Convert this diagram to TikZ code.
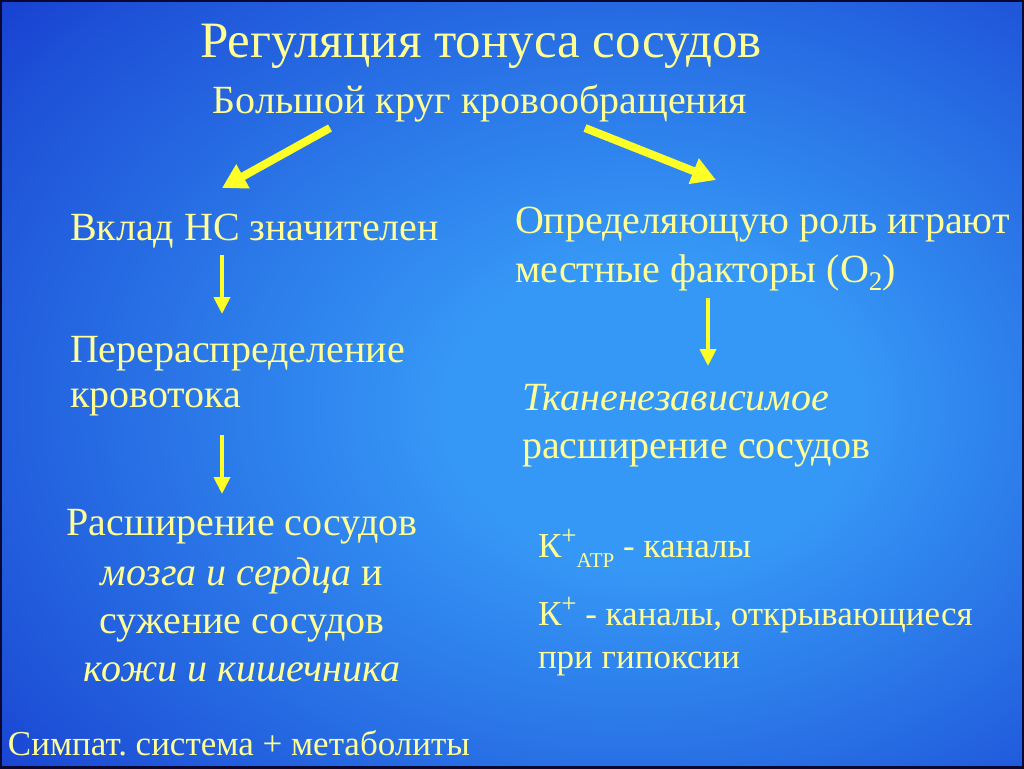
\documentclass[tikz,border=0pt]{standalone}
\usepackage{fontspec}
\setmainfont{Liberation Serif}
\setsansfont{Liberation Serif}
\usetikzlibrary{arrows.meta}
\definecolor{txt}{RGB}{255,255,150}
\definecolor{arr}{RGB}{255,255,40}
\definecolor{bgA}{RGB}{54,152,246}
\definecolor{bgB}{RGB}{30,82,216}
\definecolor{bgC}{RGB}{4,10,190}
\definecolor{frame}{RGB}{8,8,50}
\pgfdeclareradialshading{bgshade}{\pgfpoint{8bp}{-2bp}}{color(0bp)=(bgA);color(10bp)=(bgA);color(34bp)=(bgB);color(54bp)=(bgC);color(75bp)=(bgC)}
\newcommand{\mysz}[2]{\fontsize{#1}{#2}\selectfont}
\frenchspacing
\tikzset{
  lbl/.style={text=txt, inner sep=0pt, outer sep=0pt, anchor=base west, font=\rmfamily\mysz{40}{46}},
  ctr/.style={lbl, anchor=base},
  smalltxt/.style={lbl, font=\rmfamily\mysz{35}{40}},
  bigarrow/.style={draw=arr, line width=8pt, -{Triangle[width=26pt,length=24pt]}},
  downarrow/.style={draw=arr, line width=4pt, -{Triangle[width=16pt,length=17pt]}}
}
\begin{document}
\begin{tikzpicture}[x=1pt,y=-1pt]
\useasboundingbox (0,0) rectangle (1024,768);
\shade[shading=bgshade] (0,0) rectangle (1024,768);
\draw[frame, line width=4pt] (0,0) rectangle (1024,768);

% title
\node[ctr, font=\rmfamily\mysz{51}{56}] (title) at (481,58) {Регуляция тонуса сосудов};
\node[ctr] (sub) at (480,113) {Большой круг кровообращения};

% left column
\node[lbl] (vklad) at (70,240) {Вклад НС значителен};
\node[lbl] (perer1) at (70,362) {Перераспределение};
\node[lbl] (perer2) at (70,407) {кровотока};
\node[ctr] (rassh1) at (242,535) {Расширение сосудов};
\node[ctr] (rassh2) at (242,585) {\textit{мозга и сердца} и};
\node[ctr] (rassh3) at (242,633) {сужение сосудов};
\node[ctr] (rassh4) at (242,681) {\textit{кожи и кишечника}};

% right column
\node[lbl] (opred1) at (515,233) {Определяющую роль играют};
\node[lbl] (opred2) at (515,282) {местные факторы (О\raisebox{-0.22em}{\mysz{27}{27}2})};
\node[lbl] (tkan1) at (522,410) {\textit{Тканенезависимое}};
\node[lbl] (tkan2) at (522,458) {расширение сосудов};
\node[smalltxt] (katp) at (538,557) {К\raisebox{0.36em}{\mysz{27}{27}+}\raisebox{-0.3em}{\mysz{21}{21}АТР} - каналы};
\node[smalltxt] (kgip1) at (538,625) {К\raisebox{0.36em}{\mysz{27}{27}+} - каналы, открывающиеся};
\node[smalltxt] (kgip2) at (538,668) {при гипоксии};

% bottom
\node[smalltxt] (simp) at (8,755) {Симпат. система + метаболиты};

% arrows
\coordinate (a1s) at (330,128);
\coordinate (a1e) at (222,188);
\coordinate (a2s) at (585,128);
\coordinate (a2e) at (716,180);
\draw[bigarrow] (a1s) -- (a1e);
\draw[bigarrow] (a2s) -- (a2e);

\coordinate (d1s) at (222,255);
\coordinate (d1e) at (222,314);
\coordinate (d2s) at (222,435);
\coordinate (d2e) at (222,494);
\coordinate (d3s) at (708,298);
\coordinate (d3e) at (708,366);
\draw[downarrow] (d1s) -- (d1e);
\draw[downarrow] (d2s) -- (d2e);
\draw[downarrow] (d3s) -- (d3e);
\end{tikzpicture}
\end{document}
